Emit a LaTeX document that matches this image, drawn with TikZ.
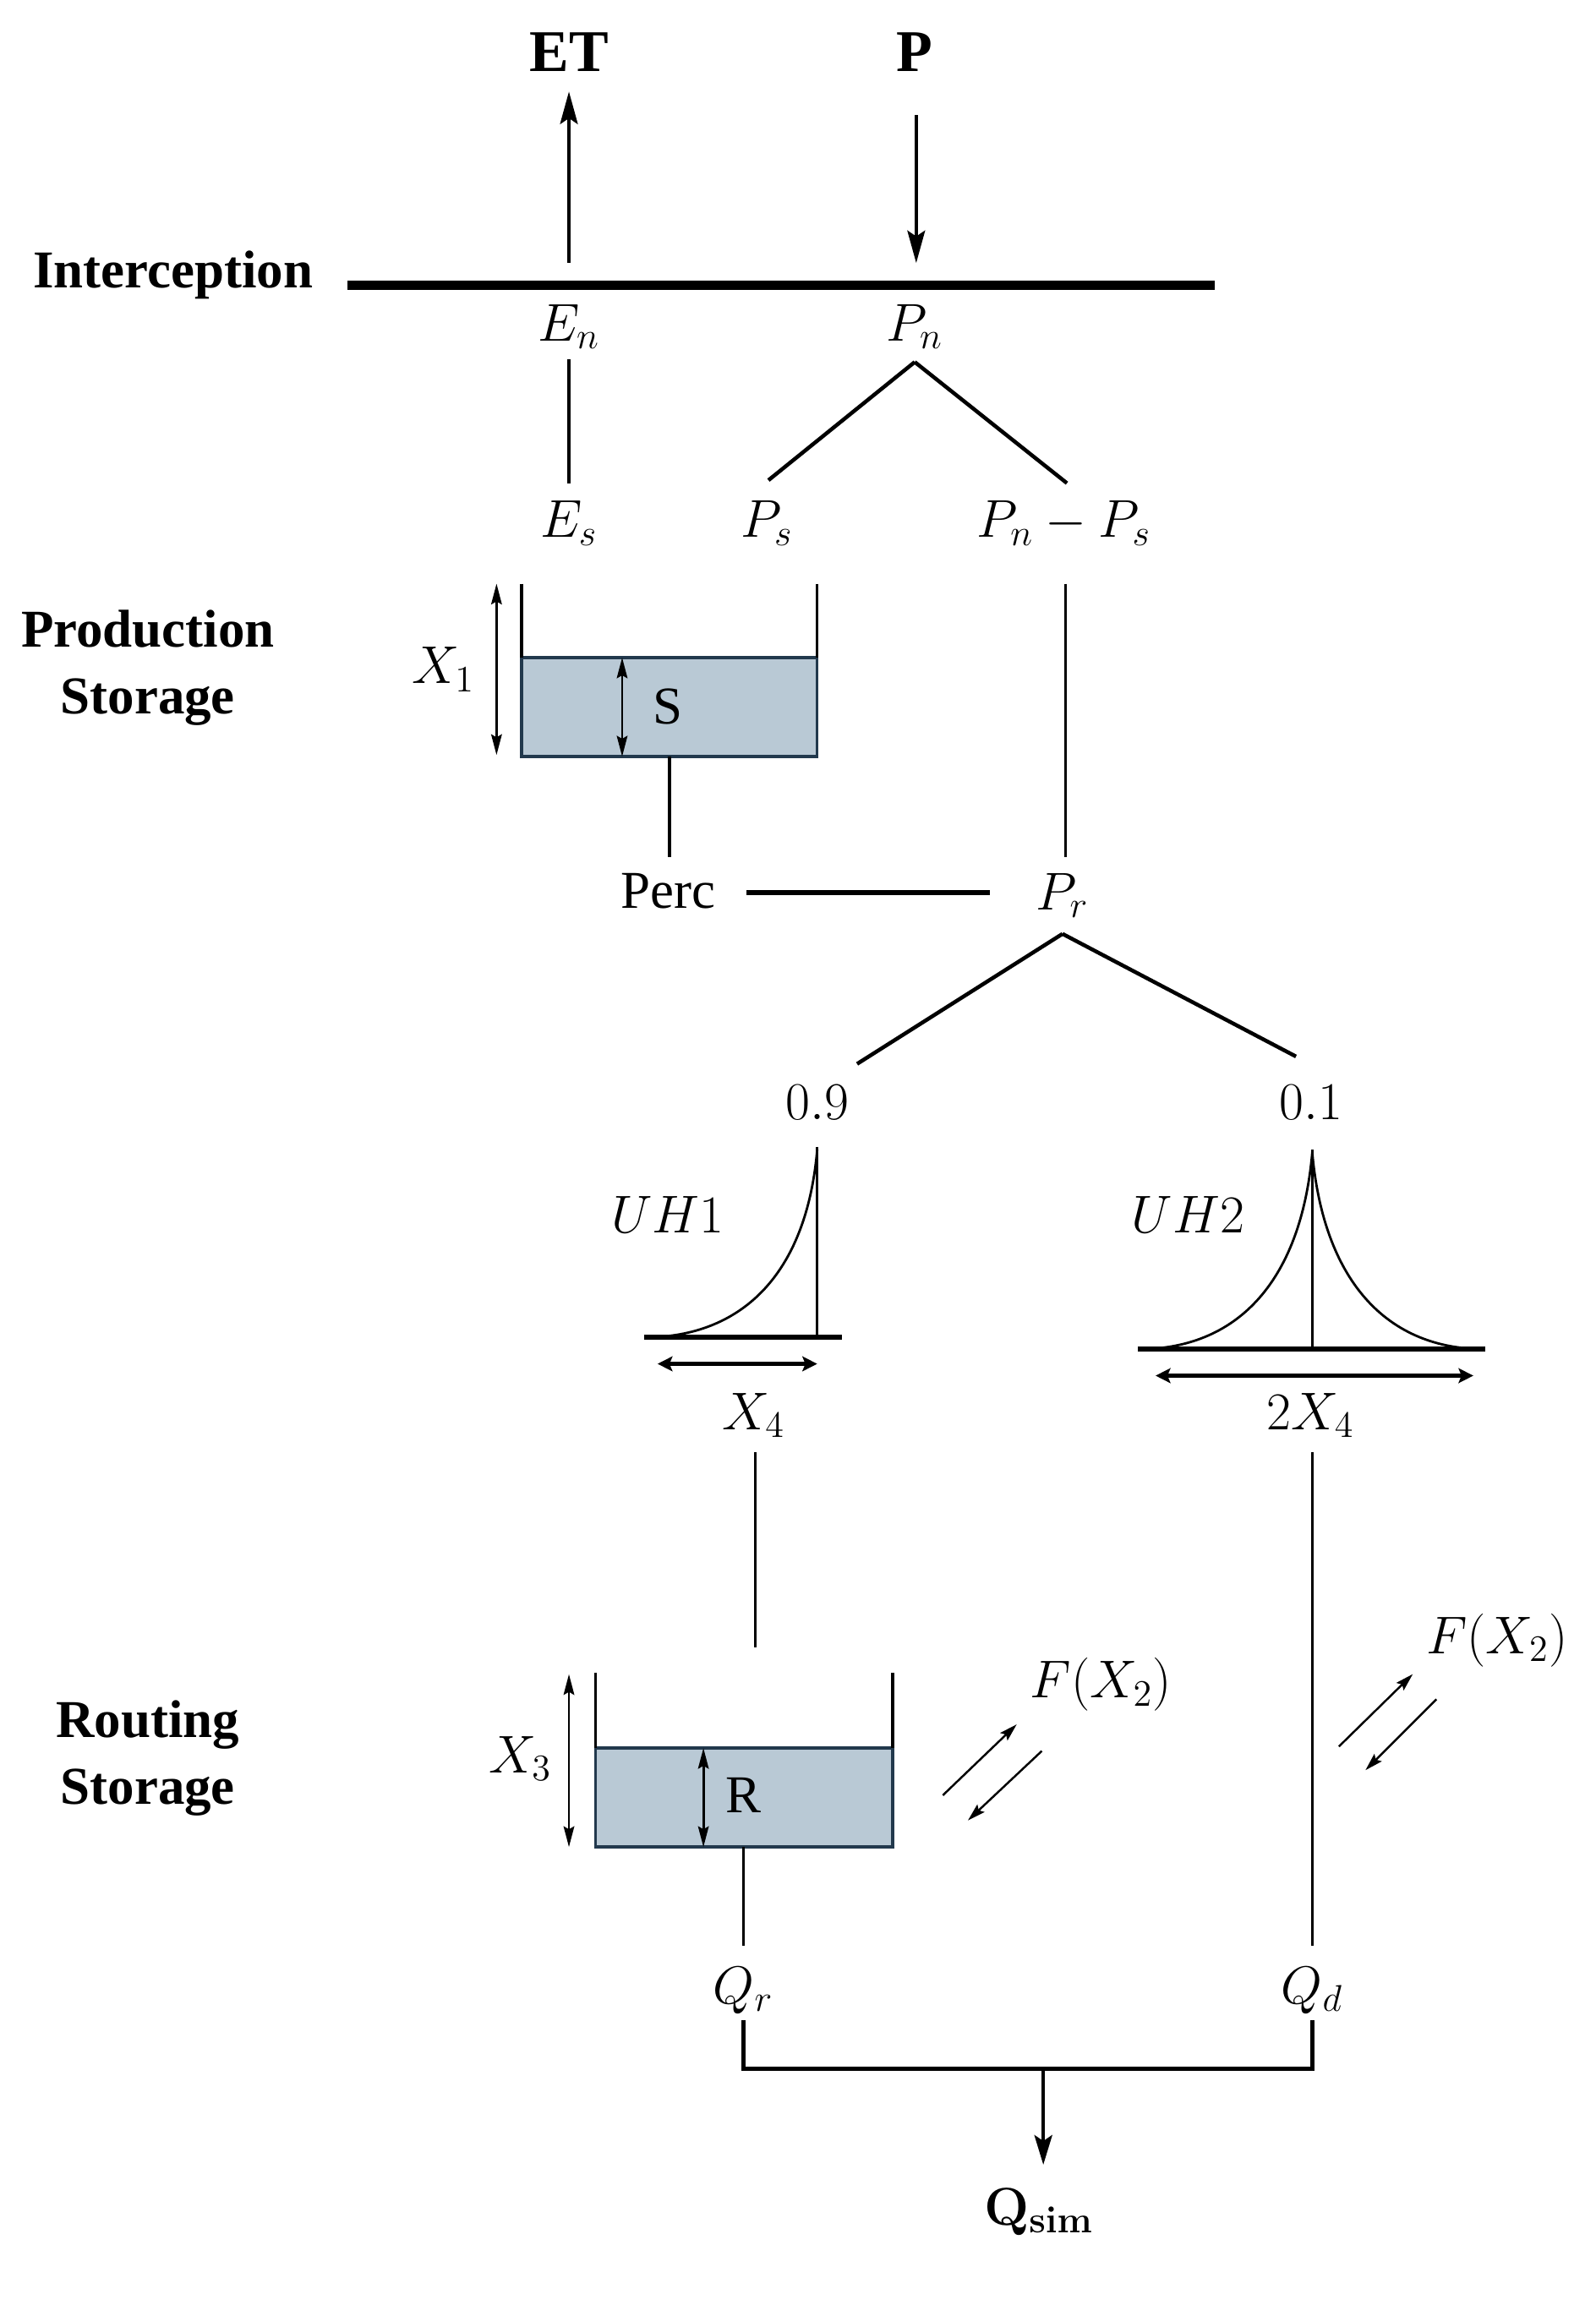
\RequirePackage{fix-cm}
\documentclass[tikz,border=0pt]{standalone}
\usepackage[no-math]{fontspec}
\setmainfont{Liberation Serif}
\usetikzlibrary{arrows.meta,calc}
\definecolor{waterfill}{HTML}{B9C9D5}
\definecolor{waterline}{HTML}{22394D}
\begin{document}
\begin{tikzpicture}[x=0.5pt,y=-0.5pt,
  every node/.style={font=\fontsize{18}{22}\selectfont, inner sep=0pt},
  big/.style={font=\fontsize{20}{24}\selectfont\bfseries},
  lbl/.style={font=\fontsize{18}{22.5}\selectfont\bfseries, align=center},
  conn/.style={line width=1pt},
  branch/.style={line width=1.3pt},
  thick line/.style={line width=1.6pt},
  uh/.style={line width=0.8pt},
  bigarrow/.style={line width=1pt,-{Stealth[length=11pt,width=6pt,inset=2pt]}},
  dbl/.style={line width=0.8pt,{Stealth[length=7pt,width=3.6pt,inset=1pt]}-{Stealth[length=7pt,width=3.6pt,inset=1pt]}},
  dblbold/.style={line width=1.5pt,{Stealth[length=5pt,width=5pt,inset=1pt]}-{Stealth[length=5pt,width=5pt,inset=1pt]}},
  smallarrow/.style={line width=0.7pt,-{Stealth[length=6pt,width=3.5pt,inset=1pt]}},
  water/.style={fill=waterfill, draw=waterline, line width=1pt}]
\useasboundingbox (0,0) rectangle (1080,1567.4);

% ---- top
\node[big] (ET) at (385,35) {ET};
\node[big] (P) at (619,35) {P};
\node[lbl] (Int) at (117,186) {Interception};
\coordinate (IL) at (235,193);
\coordinate (IR) at (822,193);
\draw[line width=3pt] (IL) -- (IR);
\coordinate (ETfoot) at (385,178);
\coordinate (Pfoot) at (620,178);
\draw[bigarrow] (ETfoot) -- ($(ET)+(0,27)$);
\draw[bigarrow] ($(P)+(1,43)$) -- (Pfoot);

\node (En) at (385,221) {$E_n$};
\node (Pn) at (619,221) {$P_n$};
\node (Es) at (385,354) {$E_s$};
\node (Ps) at (519,354) {$P_s$};
\node (PnPs) at (720,354) {$P_n - P_s$};
\draw[conn] ($(En)+(0,22)$) -- ($(Es)+(0,-27)$);
\draw[branch] ($(Pn)+(0,24)$) -- ($(Ps)+(1,-29)$);
\draw[branch] ($(Pn)+(0,24)$) -- ($(PnPs)+(2,-27)$);

% ---- production storage
\node[lbl] (Prod) at (100,452) {Production\\Storage};
\draw[water] (353,445) rectangle (553,512);
\draw[conn] (353,395) -- (353,445);
\draw[conn] (553,395) -- (553,445);
\draw[dbl] (336,395) -- (336,511);
\node (X1) at (300,453) {$X_1$};
\draw[dbl] (421,445) -- (421,512);
\node (S) at (452,478) {S};
\coordinate (T1out) at (453,512);
\node (Perc) at (452,603) {Perc};
\node (Pr) at (719,606) {$P_r$};
\draw[conn] (T1out) -- ($(Perc)+(1,-23)$);
\draw[conn] ($(PnPs)+(1,41)$) -- ($(Pr)+(2,-26)$);
\draw[thick line] ($(Perc)+(53,1)$) -- ($(Pr)+(-49,-2)$);

% ---- split
\node (N09) at (553,746) {$0.9$};
\node (N01) at (887,746) {$0.1$};
\draw[branch] ($(Pr)+(0,26)$) -- ($(N09)+(27,-26)$);
\draw[branch] ($(Pr)+(0,26)$) -- ($(N01)+(-10,-31)$);

% ---- unit hydrographs
\node (UH1) at (452,822) {$UH1$};
\node (UH2) at (804,822) {$UH2$};
\draw[uh] (437,905) .. controls (495,905) and (545,870) .. (553,778);
\draw[uh] (553,776) -- (553,905);
\draw[thick line] (436,905) -- (570,905);
\draw[dblbold] (445,923) -- (553,923);
\node (X4) at (510,958) {$X_4$};

\draw[uh] (771,913) .. controls (835,913) and (880,870) .. (888,780)
          .. controls (896,870) and (941,913) .. (1004,913);
\draw[uh] (888,778) -- (888,913);
\draw[thick line] (770,913) -- (1005,913);
\draw[dblbold] (782,931) -- (997,931);
\node (X44) at (887,958) {$2X_4$};

% ---- routing storage
\node[lbl] (Rout) at (100,1190) {Routing\\Storage};
\coordinate (T2in) at (511,1115);
\draw[conn] ($(X4)+(1,25)$) -- (T2in);
\draw[water] (403,1183) rectangle (604,1250);
\draw[conn] (403,1132) -- (403,1183);
\draw[conn] (604,1132) -- (604,1183);
\draw[dbl] (385,1133) -- (385,1250);
\node (X3) at (352,1190) {$X_3$};
\draw[dbl] (476,1183) -- (476,1250);
\node (R) at (503,1215) {R};

\node (F1) at (745,1140) {$F(X_2)$};
\node (F2) at (1013,1110) {$F(X_2)$};
\draw[smallarrow] (638,1215) -- (688,1167);
\draw[smallarrow] (705,1185) -- (655,1232);
\draw[smallarrow] (906,1182) -- (956,1133);
\draw[smallarrow] (972,1150) -- (924,1198);

% ---- outflow
\node (Qr) at (503,1347) {$Q_r$};
\node (Qd) at (888,1347) {$Q_d$};
\coordinate (T2out) at (503,1250);
\draw[conn] (T2out) -- ($(Qr)+(0,-30)$);
\draw[conn] ($(X44)+(1,25)$) -- ($(Qd)+(0,-30)$);
\coordinate (J) at (706,1400);
\draw[thick line] ($(Qr)+(0,20)$) |- (J) -| ($(Qd)+(0,20)$);
\node (Qsim) at (703,1497) {$\mathbf{Q}_{\mathbf{sim}}$};
\draw[line width=1.3pt,-{Stealth[length=10pt,width=6pt,inset=2pt]}] (J) -- ($(Qsim)+(3,-32)$);
\end{tikzpicture}
\end{document}
